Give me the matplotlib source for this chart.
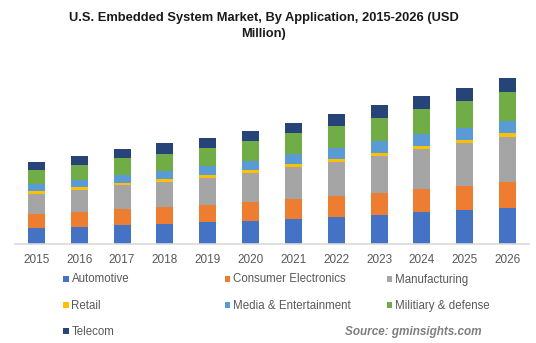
import matplotlib
matplotlib.use("Agg")
import matplotlib.pyplot as plt
from matplotlib.patches import Rectangle
import numpy as np

plt.rcParams['font.family'] = ['Liberation Sans', 'DejaVu Sans']

years = ['2015', '2016', '2017', '2018', '2019', '2020', '2021', '2022', '2023', '2024', '2025', '2026']
automotive = [16.3, 17, 19, 20.3, 22, 23, 25, 27, 28.7, 31.7, 34, 36]
consumer_electronics = [14, 15.3, 16, 16.7, 17, 19.3, 20, 21, 22, 23, 24, 26]
manufacturing = [20, 22, 24, 25.3, 27, 28.7, 32, 34, 37, 40, 42.7, 44.7]
retail = [2.7, 2.7, 2.3, 2.7, 3, 3, 3.3, 3, 3, 3, 3.3, 4.3]
media = [7.3, 7.3, 7.7, 8, 9.3, 9, 10, 11, 12, 12.3, 12, 11.7]
military = [13.7, 14.7, 17, 17, 17.7, 20, 20.7, 22, 23, 24.7, 26.7, 29]
telecom = [8, 9, 9, 11, 10, 10, 10, 12, 13, 13, 13, 14]

series_names = ['Automotive', 'Consumer Electronics', 'Manufacturing', 'Retail',
                'Media & Entertainment', 'Militiary & defense', 'Telecom']
series = [automotive, consumer_electronics, manufacturing, retail, media, military, telecom]
colors = ['#4472C4', '#ED7D31', '#A5A5A5', '#FFC000', '#5B9BD5', '#70AD47', '#264478']

W, H = 536, 343
fig = plt.figure(figsize=(W / 100, H / 100), dpi=100)
ax = fig.add_axes([15 / W, (H - 244) / H, (529 - 15) / W, 174 / H])

x = np.arange(len(years))
bottom = np.zeros(len(years))
for vals, c in zip(series, colors):
    ax.bar(x, vals, width=0.4, bottom=bottom, color=c, linewidth=0)
    bottom += np.array(vals)

ax.set_xlim(-0.5, len(years) - 0.5)
ax.set_ylim(0, 174)
ax.set_yticks([])
ax.set_xticks(x)
ax.set_xticklabels(years, fontsize=8.5, color='#595959')
ax.tick_params(axis='x', length=0, pad=7)
for s in ['top', 'right', 'left']:
    ax.spines[s].set_visible(False)
ax.spines['bottom'].set_color('#D9D9D9')
ax.spines['bottom'].set_linewidth(1.2)

fig.text(264 / W, 1 - 17.5 / H, 'U.S. Embedded System Market, By Application, 2015-2026 (USD',
         ha='center', va='center', fontsize=9.3, fontweight='bold', color='#1a1a1a')
fig.text(264 / W, 1 - 33.5 / H, 'Million)', ha='center', va='center',
         fontsize=9.3, fontweight='bold', color='#1a1a1a')

# legend, row-major in 3 columns
col_x = [63, 224.5, 386.5]
row_y = [278.5, 305, 331]
for i, (name, c) in enumerate(zip(series_names, colors)):
    r, cc = divmod(i, 3)
    mx, my = col_x[cc], row_y[r]
    fig.add_artist(Rectangle((mx / W, 1 - (my + 3) / H), 5.5 / W, 6 / H,
                             transform=fig.transFigure, color=c, linewidth=0))
    fig.text((mx + 8.5) / W, 1 - (my + 4) / H, name, ha='left', va='baseline',
             fontsize=8.3, color='#595959')

fig.text(482 / W, 1 - 335 / H, 'Source: gminsights.com', ha='right', va='baseline',
         fontsize=8.5, fontweight='bold', fontstyle='italic', color='#7F7F7F')

fig.savefig('out.png', dpi=100)
